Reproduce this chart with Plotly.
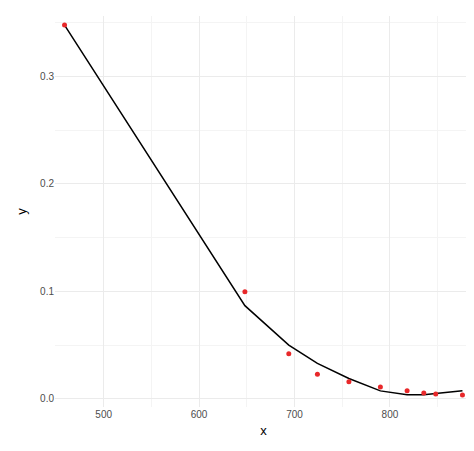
import plotly.graph_objects as go

x = [459, 648, 694, 724, 757, 790, 818, 835.5, 848, 876]
y_obs = [0.3476, 0.0997, 0.042, 0.023, 0.016, 0.011, 0.0075, 0.0056, 0.0047, 0.0037]
y_fit = [0.3476, 0.0867, 0.050, 0.033, 0.019, 0.0075, 0.004, 0.004, 0.005, 0.0075]

fig = go.Figure()
fig.add_trace(go.Scatter(x=x, y=y_fit, mode="lines", line=dict(color="black", width=1.5)))
fig.add_trace(go.Scatter(x=x, y=y_obs, mode="markers", marker=dict(color="#e8282a", size=5)))

grid = dict(showgrid=True, gridcolor="#ebebeb", gridwidth=1, zeroline=False, showline=False,
            ticks="", tickfont=dict(family="Liberation Sans", size=10, color="#4d4d4d"))
fig.update_layout(
    width=474, height=451, showlegend=False,
    plot_bgcolor="white", paper_bgcolor="white",
    margin=dict(l=47, r=10, t=8, b=52),
    font=dict(family="Liberation Sans", size=11, color="black"),
    xaxis=dict(range=[449, 886], tickvals=[500, 600, 700, 800], title=dict(text="x", standoff=6),
               minor=dict(showgrid=True, gridcolor="#f4f4f4", gridwidth=0.6, tickvals=[450, 550, 650, 750, 850]), **grid),
    yaxis=dict(range=[-0.0075, 0.356], tickvals=[0, 0.1, 0.2, 0.3], tickformat=".1f", title=dict(text="y", standoff=10),
               minor=dict(showgrid=True, gridcolor="#f4f4f4", gridwidth=0.6, tickvals=[0.05, 0.15, 0.25, 0.35]), **grid),
)
fig.write_html("out.html")
